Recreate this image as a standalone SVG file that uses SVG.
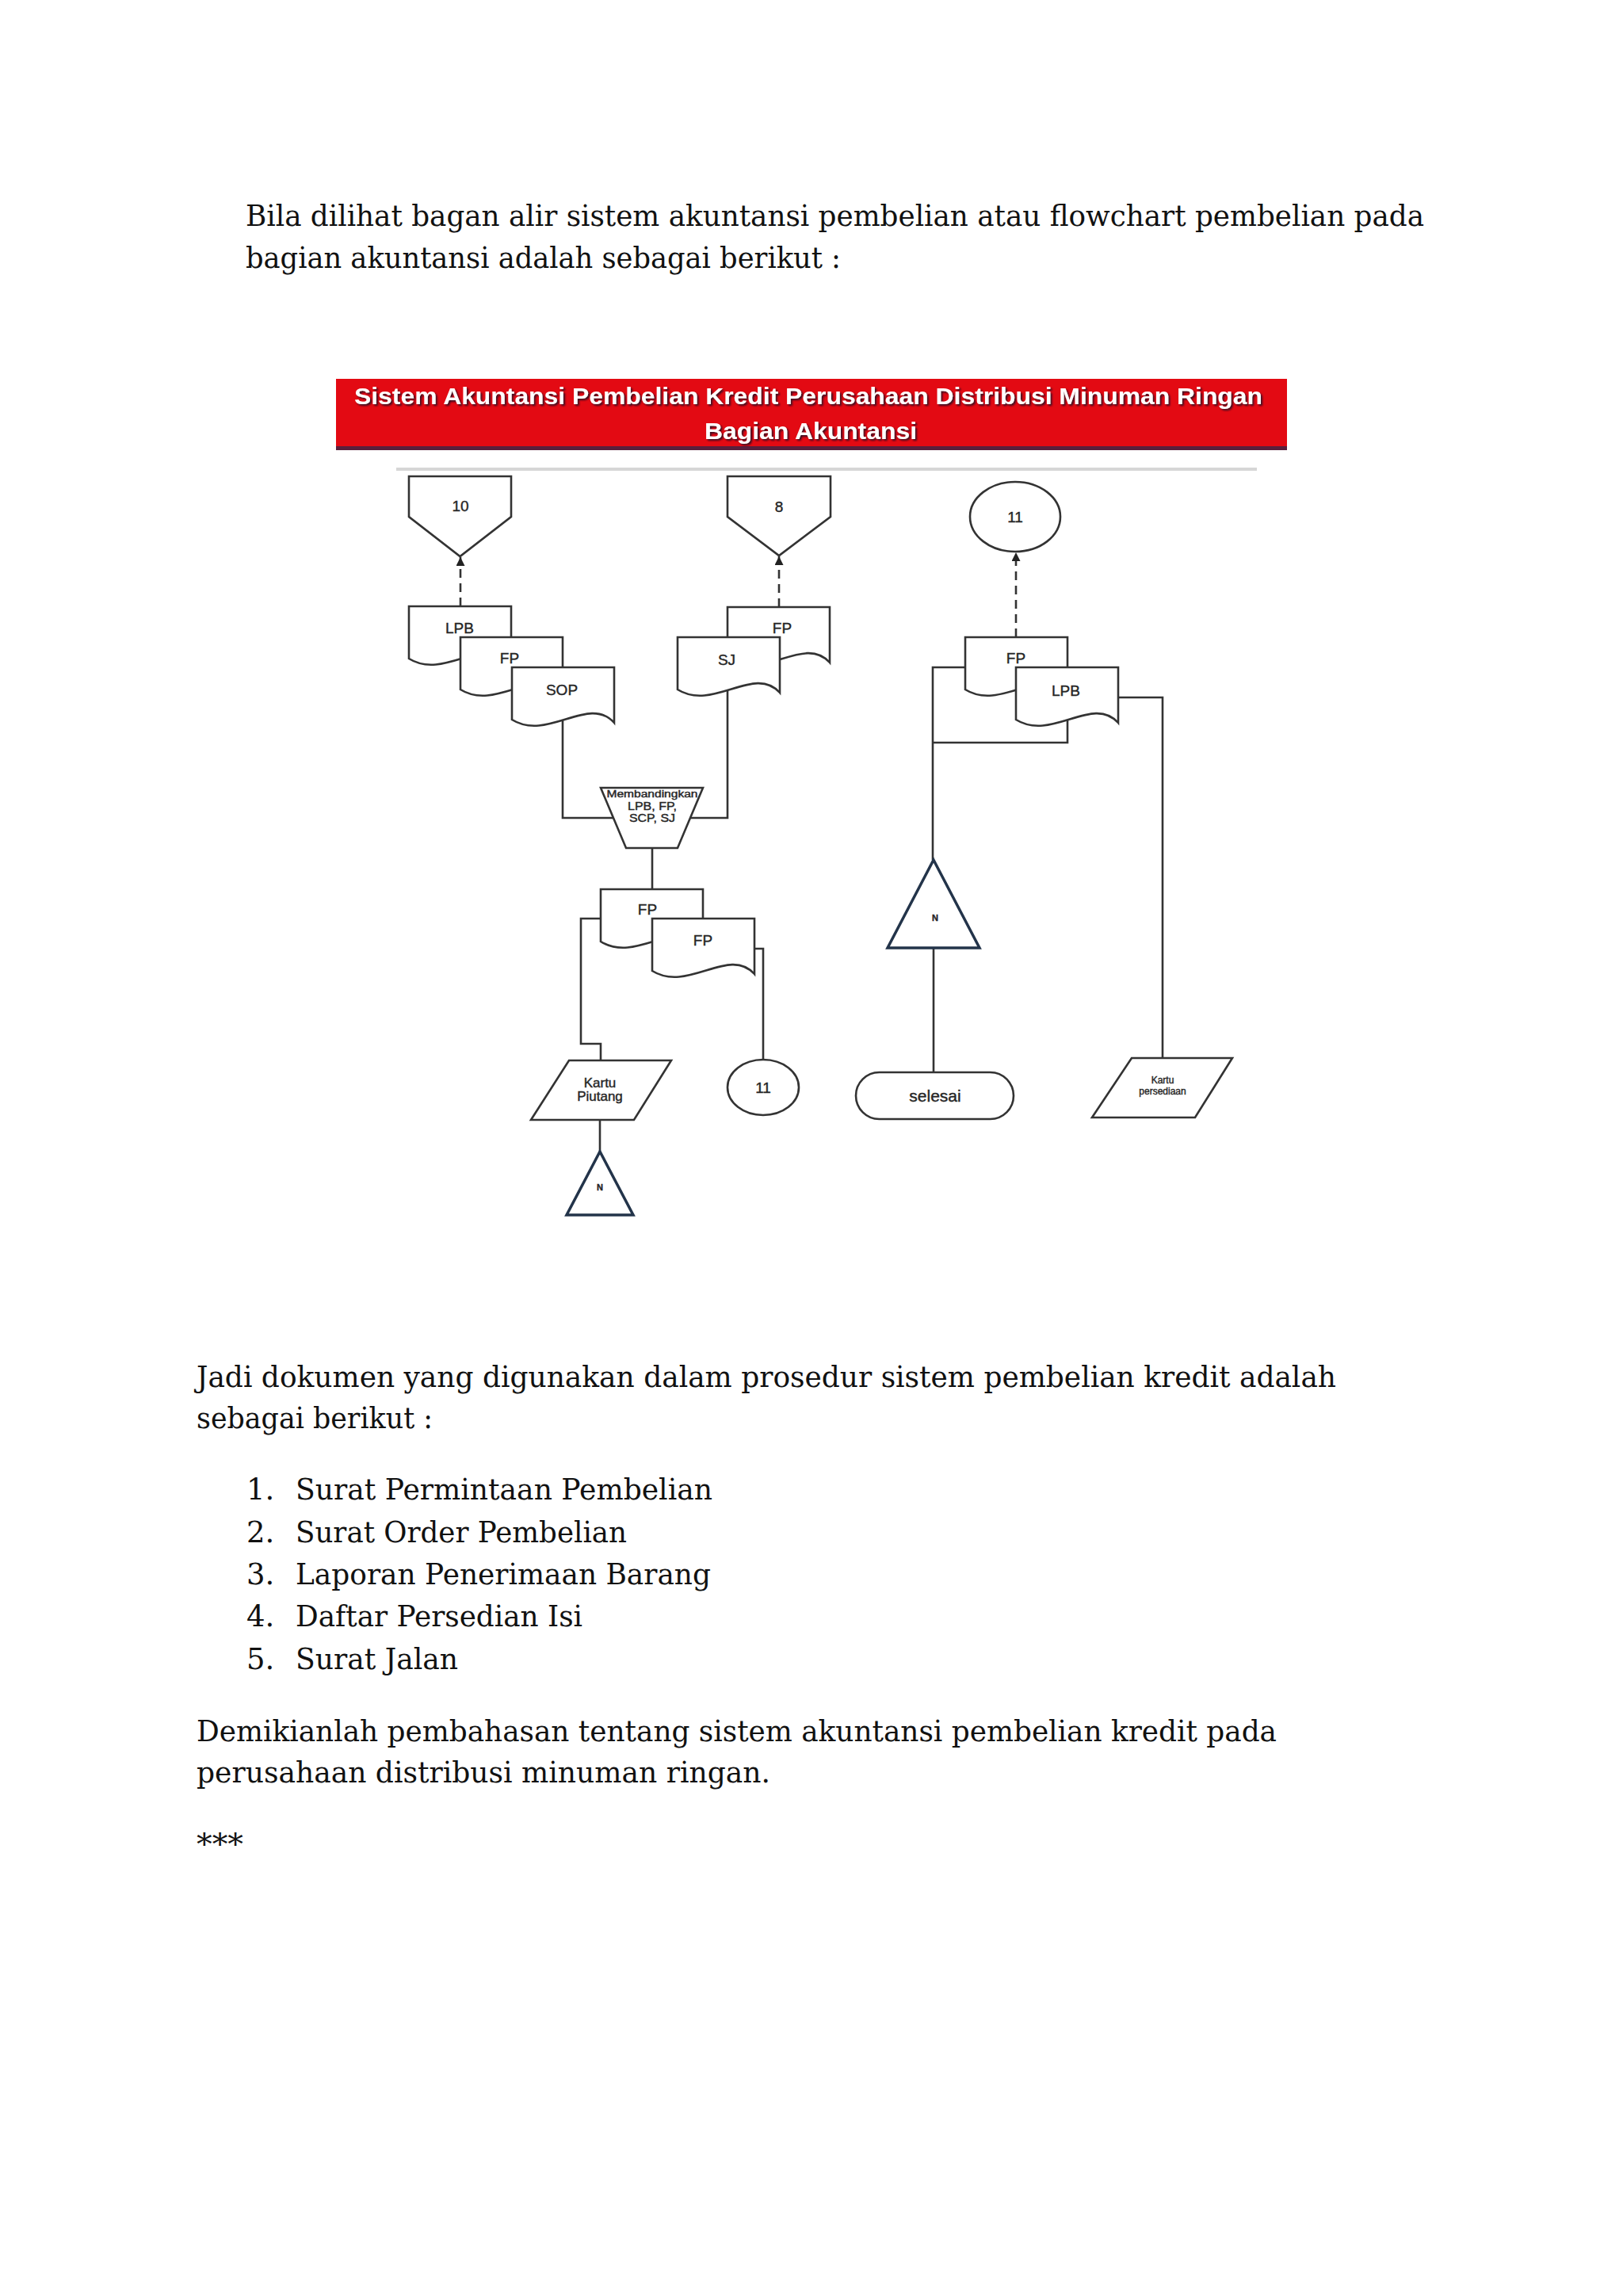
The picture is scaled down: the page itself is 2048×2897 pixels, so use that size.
<svg xmlns="http://www.w3.org/2000/svg" width="2048" height="2897" viewBox="0 0 2048 2897">
<defs>
<style>
.body{font-family:"DejaVu Serif","Liberation Serif",serif;font-size:37px;fill:#111}
.ln{fill:none;stroke:#333;stroke-width:2.6}
.dash{fill:none;stroke:#333;stroke-width:2.6;stroke-dasharray:11 7}
.shape{fill:#fff;stroke:#333;stroke-width:2.6}
.tri{fill:#fff;stroke:#23344a;stroke-width:3.5;stroke-linejoin:miter}
.lbl{font-family:"Liberation Sans",Arial,sans-serif;fill:#262626;text-anchor:middle;stroke:#262626;stroke-width:0.4}
.ttl{font-family:"Liberation Sans",Arial,sans-serif;font-weight:bold;font-size:30px;fill:#fff;text-anchor:middle}
</style>
<marker id="ah" viewBox="0 0 10 10" refX="10" refY="5" markerWidth="11" markerHeight="11" markerUnits="userSpaceOnUse" orient="auto">
<path d="M0,0 L10,5 L0,10 z" fill="#222"/>
</marker>
<filter id="sh" x="-5%" y="-30%" width="110%" height="160%">
<feDropShadow dx="2" dy="2" stdDeviation="1.2" flood-color="#2a1020" flood-opacity="0.9"/>
</filter>
</defs>
<rect x="0" y="0" width="2048" height="2897" fill="#fff"/>

<g id="intro-text">
<text class="body" x="310" y="285" textLength="1487" lengthAdjust="spacingAndGlyphs">Bila dilihat bagan alir sistem akuntansi pembelian atau flowchart pembelian pada</text>
<text class="body" x="310" y="338" textLength="751" lengthAdjust="spacingAndGlyphs">bagian akuntansi adalah sebagai berikut :</text>
</g>

<g id="title-banner">
<rect x="424" y="478" width="1200" height="88" fill="#e30a13"/>
<rect x="424" y="563" width="1200" height="5" fill="#5a1f3c"/>
<text class="ttl" x="1020" y="510" textLength="1146" lengthAdjust="spacingAndGlyphs" filter="url(#sh)">Sistem Akuntansi Pembelian Kredit Perusahaan Distribusi Minuman Ringan</text>
<text class="ttl" x="1023" y="554" textLength="268" lengthAdjust="spacingAndGlyphs" filter="url(#sh)">Bagian Akuntansi</text>
<line x1="500" y1="592" x2="1586" y2="592" stroke="#d6d6d6" stroke-width="4"/>
</g>

<g id="connectors">
<line class="dash" x1="581" y1="765" x2="581" y2="703" marker-end="url(#ah)"/>
<line class="dash" x1="983" y1="766" x2="983" y2="702" marker-end="url(#ah)"/>
<line class="dash" x1="1282" y1="804" x2="1282" y2="697" marker-end="url(#ah)"/>
<polyline class="ln" points="710,900 710,1032 774,1032"/>
<polyline class="ln" points="918,865 918,1032 871,1032"/>
<line class="ln" x1="823" y1="1070" x2="823" y2="1122"/>
<polyline class="ln" points="758,1159 733,1159 733,1317 758,1317 758,1338"/>
<polyline class="ln" points="952,1197 963,1197 963,1337"/>
<line class="ln" x1="757" y1="1413" x2="757" y2="1453"/>
<polyline class="ln" points="1218,842 1177,842 1177,1085"/>
<polyline class="ln" points="1347,900 1347,937 1177,937"/>
<polyline class="ln" points="1411,880 1467,880 1467,1335"/>
<line class="ln" x1="1178" y1="1196" x2="1178" y2="1353"/>
</g>

<g id="offpage-10">
<path class="shape" d="M516,601 H645 V652 L580.5,702 L516,652 Z"/>
<text class="lbl" x="581" y="645" font-size="19">10</text>
</g>
<g id="offpage-8">
<path class="shape" d="M918,601 H1048 V652 L983,701 L918,652 Z"/>
<text class="lbl" x="983" y="646" font-size="19">8</text>
</g>
<g id="connector-11-top">
<ellipse class="shape" cx="1281" cy="652" rx="57" ry="44"/>
<text class="lbl" x="1281" y="659" font-size="19">11</text>
</g>

<g id="doc-lpb-1">
<path class="shape" d="M516,765 H645 V835 C613,799 561,859 516,831 Z"/>
<text class="lbl" x="580" y="799" font-size="19">LPB</text>
</g>
<g id="doc-fp-1">
<path class="shape" d="M581,804 H710 V874 C678,838 626,898 581,870 Z"/>
<text class="lbl" x="643" y="837" font-size="19">FP</text>
</g>
<g id="doc-sop">
<path class="shape" d="M646,842 H775 V912 C743,876 691,936 646,908 Z"/>
<text class="lbl" x="709" y="877" font-size="19">SOP</text>
</g>

<g id="doc-fp-2">
<path class="shape" d="M918,766 H1047 V836 C1015,800 963,860 918,832 Z"/>
<text class="lbl" x="987" y="799" font-size="19">FP</text>
</g>
<g id="doc-sj">
<path class="shape" d="M855,804 H984 V874 C952,838 900,898 855,870 Z"/>
<text class="lbl" x="917" y="839" font-size="19">SJ</text>
</g>

<g id="doc-fp-3">
<path class="shape" d="M1218,804 H1347 V874 C1315,838 1263,898 1218,870 Z"/>
<text class="lbl" x="1282" y="837" font-size="19">FP</text>
</g>
<g id="doc-lpb-3">
<path class="shape" d="M1282,842 H1411 V912 C1379,876 1327,936 1282,908 Z"/>
<text class="lbl" x="1345" y="878" font-size="19">LPB</text>
</g>

<g id="manual-membandingkan">
<path class="shape" d="M758,994 H887 L855,1070 H790 Z"/>
<text class="lbl" x="823" y="1006" font-size="12" fill="#555" stroke="none" textLength="115" lengthAdjust="spacingAndGlyphs">Membandingkan</text>
<text class="lbl" x="823" y="1022" font-size="14" fill="#555" stroke="none" textLength="62" lengthAdjust="spacingAndGlyphs">LPB, FP,</text>
<text class="lbl" x="823" y="1037" font-size="14" fill="#555" stroke="none" textLength="58" lengthAdjust="spacingAndGlyphs">SCP, SJ</text>
</g>

<g id="doc-fp-4">
<path class="shape" d="M758,1122 H887 V1192 C855,1156 803,1216 758,1188 Z"/>
<text class="lbl" x="817" y="1154" font-size="19">FP</text>
</g>
<g id="doc-fp-5">
<path class="shape" d="M823,1159 H952 V1229 C920,1193 868,1253 823,1225 Z"/>
<text class="lbl" x="887" y="1193" font-size="19">FP</text>
</g>

<g id="kartu-piutang">
<path class="shape" d="M718,1338 H847 L800,1413 H670 Z"/>
<text class="lbl" x="757" y="1372" font-size="17" stroke="none">Kartu</text>
<text class="lbl" x="757" y="1389" font-size="17" stroke="none">Piutang</text>
</g>
<g id="connector-11-bottom">
<ellipse class="shape" cx="963" cy="1372" rx="45" ry="35"/>
<text class="lbl" x="963" y="1379" font-size="19">11</text>
</g>
<g id="archive-n-left">
<path class="tri" d="M757,1453 L799,1533 H715 Z"/>
<text class="lbl" x="757" y="1502" font-size="11" font-weight="bold" fill="#222" stroke="none">N</text>
</g>

<g id="archive-n-right">
<path class="tri" d="M1178,1085 L1236,1196 H1120 Z"/>
<text class="lbl" x="1180" y="1162" font-size="11" font-weight="bold" fill="#222" stroke="none">N</text>
</g>
<g id="selesai">
<rect class="shape" x="1080" y="1353" width="199" height="59" rx="29.5"/>
<text class="lbl" x="1180" y="1390" font-size="21" fill="#444" stroke="#444">selesai</text>
</g>
<g id="kartu-persediaan">
<path class="shape" d="M1428,1335 H1555 L1508,1410 H1378 Z"/>
<text class="lbl" x="1467" y="1367" font-size="12" fill="#444" stroke="none">Kartu</text>
<text class="lbl" x="1467" y="1381" font-size="12" fill="#444" stroke="none">persediaan</text>
</g>

<g id="closing-text">
<text class="body" x="248" y="1750" textLength="1438" lengthAdjust="spacingAndGlyphs">Jadi dokumen yang digunakan dalam prosedur sistem pembelian kredit adalah</text>
<text class="body" x="248" y="1802" textLength="298" lengthAdjust="spacingAndGlyphs">sebagai berikut :</text>
<text class="body" x="311" y="1892">1.</text>
<text class="body" x="373" y="1892" textLength="526" lengthAdjust="spacingAndGlyphs">Surat Permintaan Pembelian</text>
<text class="body" x="311" y="1946">2.</text>
<text class="body" x="373" y="1946" textLength="418" lengthAdjust="spacingAndGlyphs">Surat Order Pembelian</text>
<text class="body" x="311" y="1999">3.</text>
<text class="body" x="373" y="1999" textLength="524" lengthAdjust="spacingAndGlyphs">Laporan Penerimaan Barang</text>
<text class="body" x="311" y="2052">4.</text>
<text class="body" x="373" y="2052" textLength="362" lengthAdjust="spacingAndGlyphs">Daftar Persedian Isi</text>
<text class="body" x="311" y="2106">5.</text>
<text class="body" x="373" y="2106" textLength="205" lengthAdjust="spacingAndGlyphs">Surat Jalan</text>
<text class="body" x="248" y="2197" textLength="1363" lengthAdjust="spacingAndGlyphs">Demikianlah pembahasan tentang sistem akuntansi pembelian kredit pada</text>
<text class="body" x="248" y="2249" textLength="724" lengthAdjust="spacingAndGlyphs">perusahaan distribusi minuman ringan.</text>
<text class="body" x="248" y="2340" textLength="59" lengthAdjust="spacingAndGlyphs">***</text>
</g>
</svg>
